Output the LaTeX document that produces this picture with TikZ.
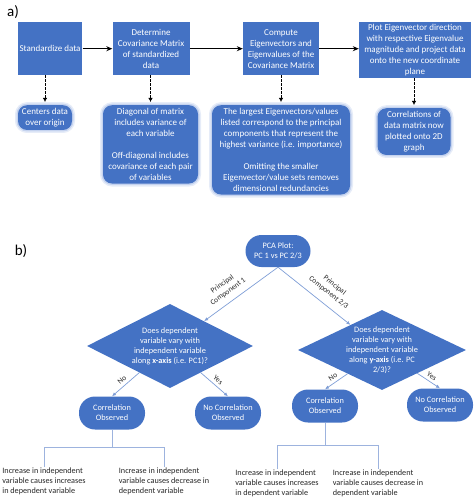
\documentclass[tikz,border=0pt]{standalone}
\usepackage{fontspec}
\setmainfont{Carlito}
\usepackage{tikz}
\usetikzlibrary{arrows.meta, shapes.geometric}
\definecolor{pcablue}{HTML}{4472C4}
\definecolor{glowblue}{HTML}{9DB5E3}
\definecolor{linkblue}{HTML}{7F9ED6}
\definecolor{treeblue}{HTML}{9DB3DE}

\begin{document}
\begin{tikzpicture}[x=1pt, y=-1pt,
	stepbox/.style={fill=pcablue, text=white, align=center, inner sep=2pt, anchor=north, minimum height=53pt, font=\fontsize{9}{11}\selectfont},
	notebox/.style={stepbox, minimum height=0pt, inner ysep=3pt, rounded corners=9pt,
		preaction={draw=glowblue, line width=6pt, opacity=.25},
		preaction={draw=glowblue, line width=3pt, opacity=.45}},
	flow/.style={line width=1pt, -{Stealth[length=6pt,width=5pt]}},
	dashflow/.style={line width=1pt, dash pattern=on 2.5pt off 1.5pt, -{Latex[length=4pt,width=4.5pt]}, shorten >=3pt},
	pill/.style={fill=pcablue, text=white, align=center, rounded corners=16pt, minimum width=66pt, minimum height=33pt, inner sep=1pt, font=\fontsize{8.3}{10}\selectfont},
	choice/.style={diamond, fill=pcablue, minimum width=166pt, minimum height=84pt, inner sep=0pt},
	choicetext/.style={text=white, align=center, inner sep=0pt, font=\fontsize{8.3}{10}\selectfont},
	link/.style={draw=linkblue, line width=.7pt, -{Latex[length=4pt,width=3.5pt]}},
	lab/.style={font=\fontsize{7.5}{9.5}\selectfont, align=center, inner sep=1pt, text=black!85},
	tree/.style={draw=treeblue, line width=.8pt},
	outcome/.style={anchor=north, align=left, inner sep=1pt, text=black!85, font=\fontsize{8.2}{10}\selectfont}]
	\useasboundingbox (0,0) rectangle (474,500);
	\node[font=\fontsize{15}{15}\selectfont] (parta) at (13,12) {a)};
	\node[stepbox, minimum width=63pt] (std) at (50,22) {Standardize data};
	\node[stepbox, minimum width=77pt] (cov) at (151,22) {Determine\\Covariance Matrix\\of standardized\\data};
	\node[stepbox, minimum width=76pt] (eig) at (281,22) {Compute\\Eigenvectors and\\Eigenvalues of the\\Covariance Matrix};
	\node[stepbox, minimum width=112pt] (plot) at (415,22) {Plot Eigenvector direction\\with respective Eigenvalue\\magnitude and project data\\onto the new coordinate\\plane};
	\draw[flow] (std.east) -- (cov.west);
	\draw[flow] (cov.east) -- (eig.west);
	\draw[flow] (eig.east) -- (eig.east -| plot.west);
	\node[notebox, minimum width=54pt] (ctr) at (45,105) {Centers data\\over origin};
	\node[notebox, minimum width=95pt] (diag) at (150.5,105) {Diagonal of matrix\\includes variance of\\each variable\\[11pt]Off-diagonal includes\\covariance of each pair\\of variables};
	\node[notebox, minimum width=138pt] (big) at (281,105) {The largest Eigenvectors/values\\listed correspond to the principal\\components that represent the\\highest variance (i.e. importance)\\[11pt]Omitting the smaller\\Eigenvector/value sets removes\\dimensional redundancies};
	\node[notebox, minimum width=73pt] (corr) at (414,108) {Correlations of\\data matrix now\\plotted onto 2D\\graph};
	\draw[dashflow] (ctr.north |- std.south) -- (ctr.north);
	\draw[dashflow] (diag.north |- cov.south) -- (diag.north);
	\draw[dashflow] (big.north |- eig.south) -- (big.north);
	\draw[dashflow] (corr.north |- plot.south) -- (corr.north);

	\node[font=\fontsize{15}{15}\selectfont] (partb) at (21,251) {b)};
	\node[pill, minimum width=65pt, minimum height=32pt] (pca) at (278,251) {PCA Plot:\\PC 1 vs PC 2/3};
	\node[choice] (dia1) at (170,346) {};
	\node[choicetext] (q1) at (dia1) {Does dependent\\variable vary with\\independent variable\\along \textbf{x-axis} (i.e. PC1)?};
	\node[choice, minimum width=168pt, minimum height=80pt] (dia2) at (382,350) {};
	\node[choicetext] (q2) at (dia2) {Does dependent\\variable vary with\\independent variable\\along \textbf{y-axis} (i.e. PC\\2/3)?};
	\draw[link] (pca.south) -- (dia1) node[pos=.6, sloped, above=5pt, lab] {Principal\\Component 1};
	\draw[link] (pca.south) -- (dia2) node[pos=.6, sloped, above=7pt, lab] {Principal\\Component 2/3};
	\node[pill] (cor1) at (112,413) {Correlation\\Observed};
	\node[pill] (nocor1) at (228,413) {No Correlation\\Observed};
	\node[pill] (cor2) at (325,406) {Correlation\\Observed};
	\node[pill] (nocor2) at (440,405) {No Correlation\\Observed};
	\draw[link] (dia1) -- (cor1.north) node[midway, sloped, above=2pt, lab] {No};
	\draw[link] (dia1) -- (nocor1.north) node[midway, sloped, above=2pt, lab] {Yes};
	\draw[link] (dia2) -- (cor2.north) node[midway, sloped, above=2pt, lab] {No};
	\draw[link] (dia2) -- (nocor2.north) node[midway, sloped, above=2pt, lab] {Yes};
	\node[outcome] (inc1) at (44,467) {Increase in independent\\variable causes increases\\in dependent variable};
	\node[outcome] (dec1) at (164,467) {Increase in independent\\variable causes decrease in\\dependent variable};
	\node[outcome] (inc2) at (277,469) {Increase in independent\\variable causes increases\\in dependent variable};
	\node[outcome] (dec2) at (378,469) {Increase in independent\\variable causes decrease in\\dependent variable};
	\draw[tree] (cor1.south) -- ++(0,18) coordinate (fork1);
	\draw[tree] (inc1.north) |- (fork1) -| (dec1.north);
	\draw[tree] (cor2.south) -- ++(0,23) coordinate (fork2);
	\draw[tree] (inc2.north) |- (fork2) -| (dec2.north);
\end{tikzpicture}
\end{document}
